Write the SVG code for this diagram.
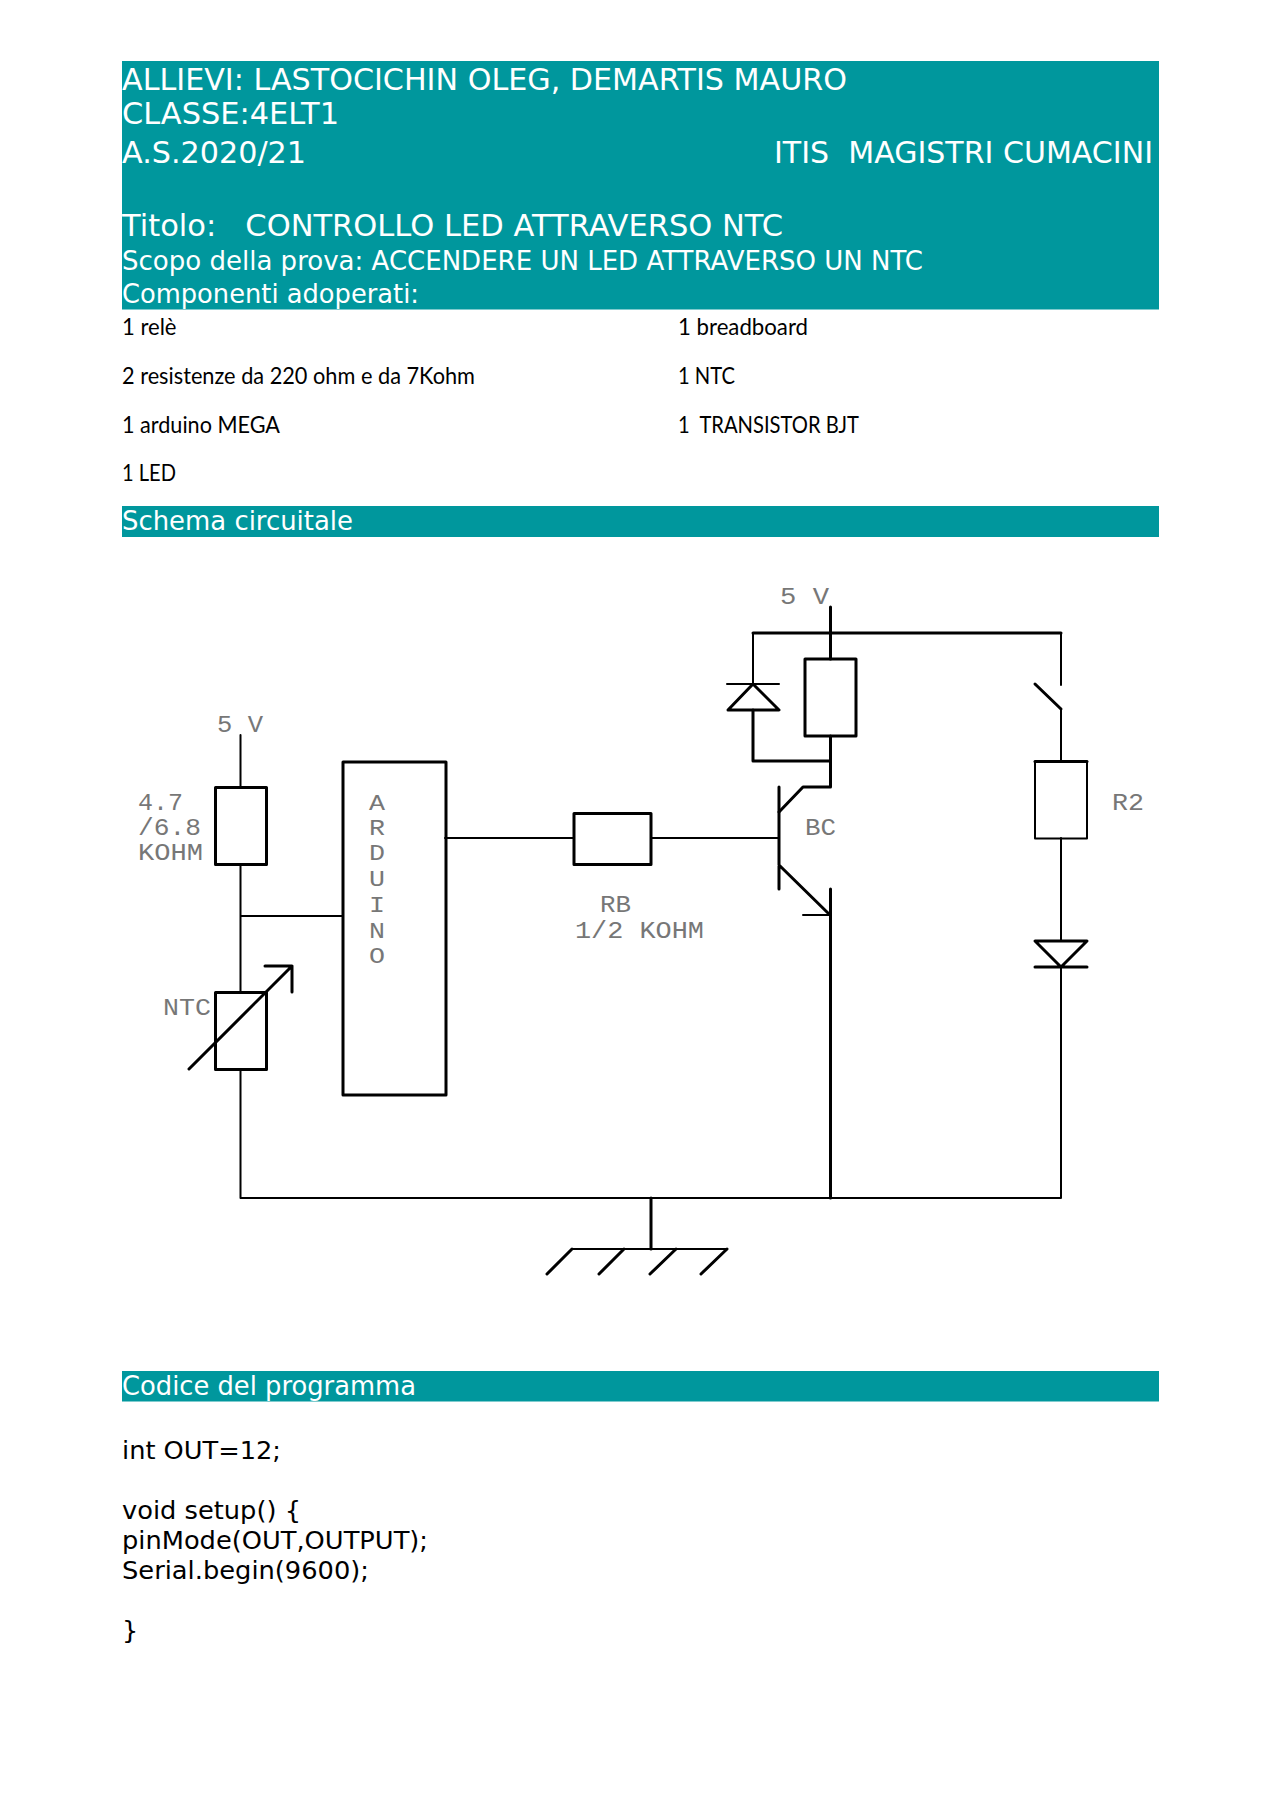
<svg xmlns="http://www.w3.org/2000/svg" width="1280" height="1811" viewBox="0 0 1280 1811">
<style>
.bar{fill:#00979d;stroke:none}
.h{font-family:"DejaVu Sans",sans-serif;fill:#fff;font-size:25.8px}
.h1{font-size:30.4px}
.l{font-family:"Lato",sans-serif;font-size:22.5px;fill:#000}
.c{font-family:"DejaVu Sans",sans-serif;font-size:25.5px;fill:#000}
.t{font-family:"Liberation Mono",monospace;font-size:23px;fill:#777}
.a{font-size:21.5px}
.w{fill:none;stroke:#000;stroke-width:2;stroke-linecap:round;stroke-linejoin:round}
.k{fill:none;stroke:#000;stroke-width:3;stroke-linecap:round;stroke-linejoin:round}
</style>
<rect width="1280" height="1811" fill="#fff"/>
<g id="header">
<rect class="bar" x="122" y="61" width="1037" height="248.5"/>
<text class="h h1" x="122" y="90" textLength="725" lengthAdjust="spacingAndGlyphs">ALLIEVI: LASTOCICHIN OLEG, DEMARTIS MAURO</text>
<text class="h h1" x="122" y="124" textLength="217" lengthAdjust="spacingAndGlyphs">CLASSE:4ELT1</text>
<text class="h h1" x="122" y="163" textLength="184" lengthAdjust="spacingAndGlyphs">A.S.2020/21</text>
<text class="h h1" x="774" y="163" textLength="379" lengthAdjust="spacingAndGlyphs" xml:space="preserve">ITIS  MAGISTRI CUMACINI</text>
<text class="h h1" x="122" y="235.500" textLength="661" lengthAdjust="spacingAndGlyphs" xml:space="preserve">Titolo:   CONTROLLO LED ATTRAVERSO NTC</text>
<text class="h" x="122" y="270" textLength="801" lengthAdjust="spacingAndGlyphs">Scopo della prova: ACCENDERE UN LED ATTRAVERSO UN NTC</text>
<text class="h" x="122" y="303" textLength="297" lengthAdjust="spacingAndGlyphs">Componenti adoperati:</text>
</g>
<g id="components">
<text class="l" x="122" y="335" textLength="54.5" lengthAdjust="spacingAndGlyphs">1 relè</text>
<text class="l" x="122" y="384" textLength="353" lengthAdjust="spacingAndGlyphs">2 resistenze da 220 ohm e da 7Kohm</text>
<text class="l" x="122" y="433" textLength="158" lengthAdjust="spacingAndGlyphs">1 arduino MEGA</text>
<text class="l" x="122" y="481" textLength="54" lengthAdjust="spacingAndGlyphs">1 LED</text>
<text class="l" x="678" y="335" textLength="130" lengthAdjust="spacingAndGlyphs">1 breadboard</text>
<text class="l" x="678" y="384" textLength="57" lengthAdjust="spacingAndGlyphs">1 NTC</text>
<text class="l" x="678" y="433" textLength="181" lengthAdjust="spacingAndGlyphs" xml:space="preserve">1  TRANSISTOR BJT</text>
</g>
<g id="schema-title">
<rect class="bar" x="122" y="506" width="1037" height="31"/>
<text class="h" x="122" y="530" textLength="231" lengthAdjust="spacingAndGlyphs">Schema circuitale</text>
</g>
<g id="connectors">
<path class="w" d="M240.500 735V787M240.500 864V992M240.500 916H343M240.500 1069V1198H1061V967M445 838H574M651 838H779"/>
<path class="k" d="M830.500 607V659M753 633H1061M830.500 736V787H803L779 812M753 710V761H830.500"/>
<path class="w" d="M753 633V684M1061 633V685M1061 709V761M1061 838V941"/>
<path class="k" d="M830.500 889V1198M651 1198V1249"/>
</g>
<g id="r1"><rect class="k" x="215.500" y="787.500" width="51" height="77"/></g>
<g id="ntc"><rect class="k" x="215.500" y="992.500" width="51" height="77"/><path class="k" d="M189 1069L292 966M265 966H292V992"/></g>
<g id="arduino"><rect class="k" x="343" y="762" width="103" height="333"/></g>
<g id="rb"><rect class="k" x="574" y="813.500" width="77" height="51"/></g>
<g id="relay"><rect class="k" x="805" y="659" width="51" height="77"/></g>
<g id="diode"><path class="w" d="M727 684H779"/><path class="k" d="M753 684L779 710H728Z"/></g>
<g id="transistor"><path class="k" d="M779 787V889M779 865L830 915"/><path class="w" d="M803 915H830"/></g>
<g id="switch"><path class="k" d="M1035 684L1061 709"/></g>
<g id="r2"><path class="k" d="M1035 761.500H1087"/><rect class="w" x="1035" y="761.500" width="52" height="77"/></g>
<g id="led"><path class="k" d="M1035 941H1087L1061 967ZM1035 967H1087"/></g>
<g id="ground"><path class="w" d="M572 1249H727"/><path class="k" d="M572 1249L547 1274M624 1249L599 1274M676 1249L650 1274M727 1249L701 1274"/></g>
<g id="labels">
<text class="t" x="217" y="732" textLength="46" lengthAdjust="spacingAndGlyphs">5 V</text>
<text class="t" x="780" y="603.500" textLength="49" lengthAdjust="spacingAndGlyphs">5 V</text>
<text class="t" x="138" y="809.500" textLength="45" lengthAdjust="spacingAndGlyphs">4.7</text>
<text class="t" x="138" y="834.500" textLength="63" lengthAdjust="spacingAndGlyphs">/6.8</text>
<text class="t" x="138" y="860" textLength="65" lengthAdjust="spacingAndGlyphs">KOHM</text>
<text class="t" x="163" y="1014.500" textLength="48" lengthAdjust="spacingAndGlyphs">NTC</text>
<text class="t a" x="369" y="810" textLength="16" lengthAdjust="spacingAndGlyphs">A</text>
<text class="t a" x="369" y="835" textLength="16" lengthAdjust="spacingAndGlyphs">R</text>
<text class="t a" x="369" y="860" textLength="16" lengthAdjust="spacingAndGlyphs">D</text>
<text class="t a" x="369" y="886" textLength="16" lengthAdjust="spacingAndGlyphs">U</text>
<text class="t a" x="369" y="912" textLength="16" lengthAdjust="spacingAndGlyphs">I</text>
<text class="t a" x="369" y="938" textLength="16" lengthAdjust="spacingAndGlyphs">N</text>
<text class="t a" x="369" y="963" textLength="16" lengthAdjust="spacingAndGlyphs">O</text>
<text class="t" x="805" y="834.500" textLength="31" lengthAdjust="spacingAndGlyphs">BC</text>
<text class="t" x="600" y="912" textLength="31" lengthAdjust="spacingAndGlyphs">RB</text>
<text class="t" x="575" y="938" textLength="129" lengthAdjust="spacingAndGlyphs">1/2 KOHM</text>
<text class="t" x="1112" y="809.500" textLength="32" lengthAdjust="spacingAndGlyphs">R2</text>
</g>
<g id="code-title">
<rect class="bar" x="122" y="1371" width="1037" height="30.500"/>
<text class="h" x="122" y="1395" textLength="294" lengthAdjust="spacingAndGlyphs">Codice del programma</text>
</g>
<g id="code">
<text class="c" x="122" y="1459" textLength="159" lengthAdjust="spacingAndGlyphs">int OUT=12;</text>
<text class="c" x="122" y="1519" textLength="179" lengthAdjust="spacingAndGlyphs">void setup() {</text>
<text class="c" x="122" y="1549" textLength="306" lengthAdjust="spacingAndGlyphs">pinMode(OUT,OUTPUT);</text>
<text class="c" x="122" y="1579" textLength="247" lengthAdjust="spacingAndGlyphs">Serial.begin(9600);</text>
<text class="c" x="122" y="1639">}</text>
</g>
</svg>
